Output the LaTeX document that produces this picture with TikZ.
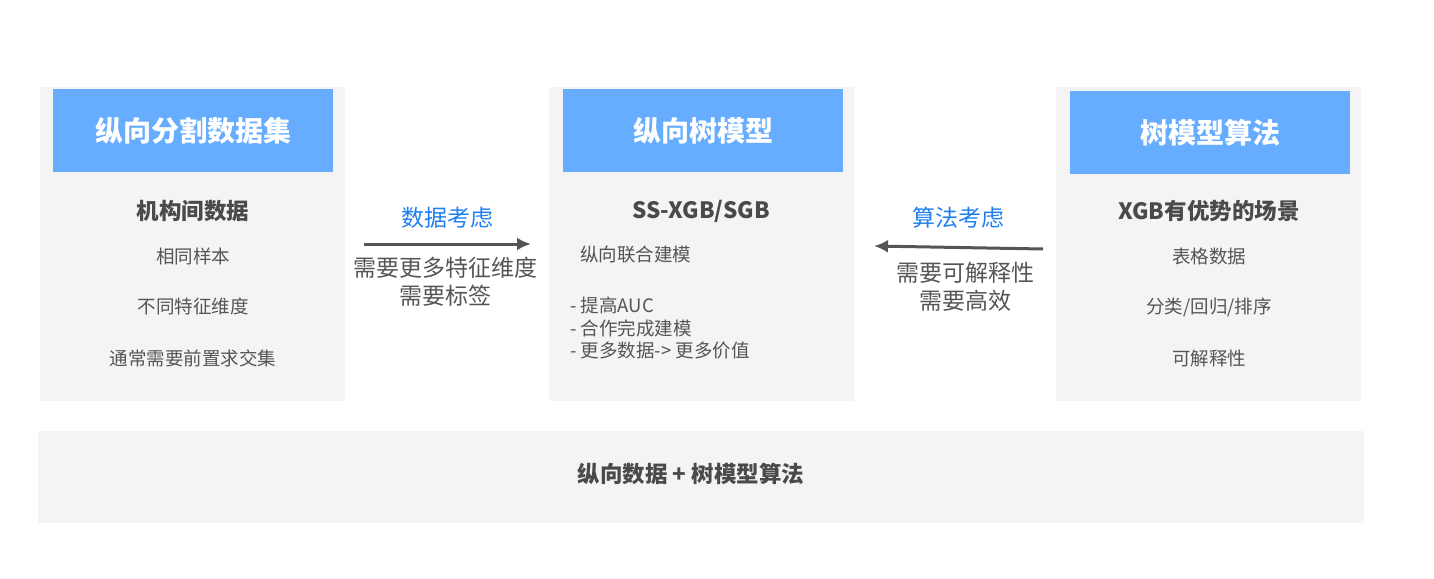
\documentclass[tikz,border=0pt]{standalone}
\usepackage{fontspec}
\setmainfont{Noto Sans CJK SC}
\usetikzlibrary{arrows.meta}
\definecolor{panelgray}{HTML}{F4F4F4}
\definecolor{headblue}{HTML}{66ADFF}
\definecolor{txtgray}{HTML}{555555}
\definecolor{boldgray}{HTML}{4A4A4A}
\definecolor{lblblue}{HTML}{1F7FF2}
\definecolor{arrgray}{HTML}{555555}
\tikzset{
  panel/.style={fill=panelgray, draw=none, inner sep=0pt},
  headbox/.style={fill=headblue, draw=none, inner sep=0pt, text=white,
    font=\fontsize{28}{33}\selectfont\bfseries},
  subtitle/.style={text=boldgray, inner sep=0pt, font=\fontsize{22.5}{26}\selectfont\bfseries},
  bodytxt/.style={text=txtgray, inner sep=0pt, font=\fontsize{18.5}{23}\selectfont},
  arrlabel/.style={text=lblblue, inner sep=0pt, font=\fontsize{23}{28}\selectfont},
  arrnote/.style={text=txtgray, inner sep=0pt, align=center, font=\fontsize{23}{28}\selectfont},
  flowarrow/.style={draw=arrgray, line width=3pt, -{Latex[length=14pt,width=13pt]}},
}
\begin{document}
\begin{tikzpicture}[x=1pt,y=-1pt]
\useasboundingbox (0,0) rectangle (1434,578);
% panels
\node[panel, minimum width=305pt, minimum height=314pt] (pL) at (192.5,244) {};
\node[panel, minimum width=305pt, minimum height=314pt] (pM) at (701.5,244) {};
\node[panel, minimum width=305pt, minimum height=314pt] (pR) at (1208.5,244) {};
\node[panel, minimum width=1326pt, minimum height=92pt] (pB) at (701,477) {};
% headers
\node[headbox, minimum width=280pt, minimum height=83pt] (hL) at (193,130.5) {纵向分割数据集};
\node[headbox, minimum width=280pt, minimum height=83pt] (hM) at (703,130.5) {纵向树模型};
\node[headbox, minimum width=280pt, minimum height=83pt] (hR) at (1210,132.5) {树模型算法};
% left content
\node[subtitle] (l1) at (193,211) {机构间数据};
\node[bodytxt] (l2) at (193,256) {相同样本};
\node[bodytxt] (l3) at (193,306) {不同特征维度};
\node[bodytxt] (l4) at (193,358) {通常需要前置求交集};
% middle content
\node[subtitle] (m1) at (701,211) {SS-XGB/SGB};
\node[bodytxt, anchor=west] (m2) at (580,255) {纵向联合建模};
\node[bodytxt, anchor=west] (m3) at (570,305) {- 提高AUC};
\node[bodytxt, anchor=west] (m4) at (570,328) {- 合作完成建模};
\node[bodytxt, anchor=west] (m5) at (570,351) {- 更多数据-> 更多价值};
% right content
\node[subtitle] (r1) at (1209,211) {XGB有优势的场景};
\node[bodytxt] (r2) at (1209,256) {表格数据};
\node[bodytxt] (r3) at (1209,307) {分类/回归/排序};
\node[bodytxt] (r4) at (1209,358) {可解释性};
% bottom
\node[subtitle] (b1) at (691,474) {纵向数据 + 树模型算法};
% arrow 1
\coordinate (a1s) at (364,244);
\coordinate (a1e) at (531,244);
\draw[flowarrow] (a1s) -- (a1e);
\node[arrlabel] (a1t) at (447,218) {数据考虑};
\node[arrnote] (a1n) at (445,282) {需要更多特征维度\\需要标签};
% arrow 2
\coordinate (a2s) at (1043,249);
\coordinate (a2e) at (874,246);
\draw[flowarrow] (a2s) -- (a2e);
\node[arrlabel] (a2t) at (958,218) {算法考虑};
\node[arrnote] (a2n) at (965,287) {需要可解释性\\需要高效};
\end{tikzpicture}
\end{document}
